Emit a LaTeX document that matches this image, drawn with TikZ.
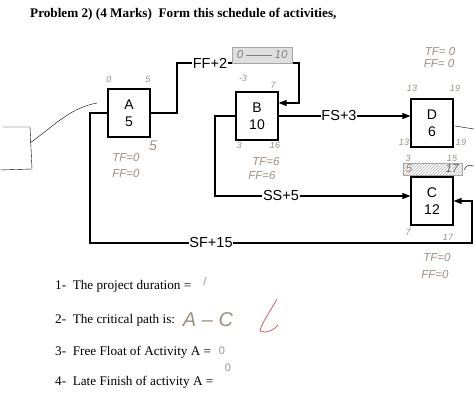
\documentclass[tikz,border=0pt]{standalone}
\usepackage{fontspec}
\setmainfont{Liberation Serif}
\setsansfont{Liberation Sans}
\usetikzlibrary{arrows.meta,patterns}

\definecolor{pencil}{rgb}{0.62,0.56,0.50}
\definecolor{redpen}{rgb}{0.86,0.36,0.38}

\tikzset{activity/.style={draw,line width=1.1pt,minimum width=42pt,minimum height=48pt,align=center,font=\sffamily\fontsize{14}{17}\selectfont,inner sep=0pt}}
\tikzset{link/.style={line width=1.1pt}}
\tikzset{tip/.style={-{Triangle[length=8pt,width=6pt]}}}
\tikzset{lag/.style={font=\sffamily\fontsize{14.5}{15}\selectfont,inner sep=0.5pt}}
\tikzset{pencil/.style={text=pencil,font=\sffamily\itshape\fontsize{9}{10}\selectfont,inner sep=0pt}}
\tikzset{note/.style={pencil,font=\sffamily\itshape\fontsize{11.5}{12}\selectfont}}
\tikzset{question/.style={anchor=west,font=\fontsize{13.2}{15}\selectfont,inner sep=0pt}}

\begin{document}
\begin{tikzpicture}[x=1pt,y=-1pt]
    \useasboundingbox (0,0) rectangle (474,402);
    \node[anchor=west,inner sep=0pt,font=\bfseries\fontsize{13.2}{15}\selectfont] (title) at (30,14) {Problem 2) (4 Marks)\ \ Form this schedule of activities,};

    % activities
    \node[activity] (A) at (129,113) {A\\5};
    \node[activity] (B) at (257,116) {B\\10};
    \node[activity] (D) at (432,123) {D\\6};
    \node[activity] (C) at (432,201) {C\\12};

    % relations
    \node[lag] (ff) at (210,63) {FF+2};
    \node[lag] (fs) at (339,116) {FS+3};
    \node[lag] (ss) at (281,196) {SS+5};
    \node[lag] (sf) at (211,243) {SF+15};
    \draw[link] (A.east) -- (177,113) |- (ff.west);
    \draw[link,tip] (ff.east) -- (299,63) |- ([yshift=13pt]B.east);
    \draw[link] (B.east) -- (fs.west);
    \draw[link,tip] (fs.east) -- (fs.east -| D.west);
    \draw[link] (B.west) -- (215,116) |- (ss.west);
    \draw[link,tip] (ss.east) -- (ss.east -| C.west);
    \draw[link] (A.west) -- (90,113) |- (sf.west);
    \draw[link,tip] (sf.east) -- (472,243) |- (C.east);

    % pencil notes
    \node[pencil] (a1) at (109,79) {0};
    \node[pencil] (a2) at (148,79) {5};
    \node[pencil,font=\sffamily\itshape\fontsize{14}{14}\selectfont] (a3) at (153,146) {5};
    \node[note] (a4) at (126,158) {TF=0};
    \node[note] (a5) at (126,174) {FF=0};
    \node[pencil] (b1) at (243,78) {-3};
    \node[pencil] (b2) at (273,85) {7};
    \node[pencil] (b3) at (239,145) {3};
    \node[pencil] (b4) at (275,145) {16};
    \node[note] (b5) at (266,162) {TF=6};
    \node[note] (b6) at (262,176) {FF=6};
    \node[note] (d1) at (440,52) {TF= 0};
    \node[note] (d2) at (439,64) {FF= 0};
    \node[pencil] (d3) at (412,88) {13};
    \node[pencil] (d4) at (455,88) {19};
    \node[pencil] (d5) at (404,142) {13};
    \node[pencil] (d6) at (461,142) {19};
    \node[pencil] (c1) at (408,232) {7};
    \node[pencil] (c2) at (448,237) {17};
    \node[note] (c3) at (437,258) {TF=0};
    \node[note] (c4) at (435,275) {FF=0};

    % patched boxes
    \filldraw[draw=gray!70,fill=gray!25] (232,47) rectangle (292,63);
    \node[note,text=gray] (p1) at (240,55) {0};
    \node[note,text=gray] (p2) at (281,55) {10};
    \draw[gray] (246,55) -- (272,55);
    \node[pencil] (q0) at (408,158) {3};
    \node[pencil] (q1) at (452,158) {15};
    \draw[draw=gray!70,pattern=north east lines,pattern color=gray!60] (403,163) rectangle (462,175);
    \node[note] (q2) at (409,169) {5};
    \node[note,text=gray!80!black] (q3) at (452,169) {17};
    \draw[pencil] (464,170) .. controls (467,165) .. (474,166);

    % scribbles
    \draw[pencil] (3,127) -- (30,127) -- (32,169) -- (0,170);
    \draw[pencil] (30,143) .. controls (55,125) and (70,108) .. (97,103);
    \draw[pencil] (455,126) -- (474,129);

    % questions
    \node[question] (q1l) at (55,286) {1-\ \ The project duration =};
    \node[question] (q2l) at (55,320) {2-\ \ The critical path is:};
    \node[question] (q3l) at (55,352) {3-\ \ Free Float of Activity A =};
    \node[question] (q4l) at (55,382) {4-\ \ Late Finish of activity A =};
    \node[pencil,font=\sffamily\fontsize{11}{11}\selectfont] (r1) at (205,282) {/};
    \node[pencil,font=\sffamily\itshape\fontsize{20}{20}\selectfont] (r2) at (208,320) {A -- C};
    \node[pencil,font=\sffamily\fontsize{11}{11}\selectfont] (r3) at (222,351) {0};
    \node[pencil,font=\sffamily\fontsize{11}{11}\selectfont] (r4) at (228,368) {0};
    \draw[redpen,line width=0.8pt] (277,299) .. controls (270,312) and (262,322) .. (260,331) .. controls (266,334) and (274,330) .. (278,325);
\end{tikzpicture}
\end{document}
